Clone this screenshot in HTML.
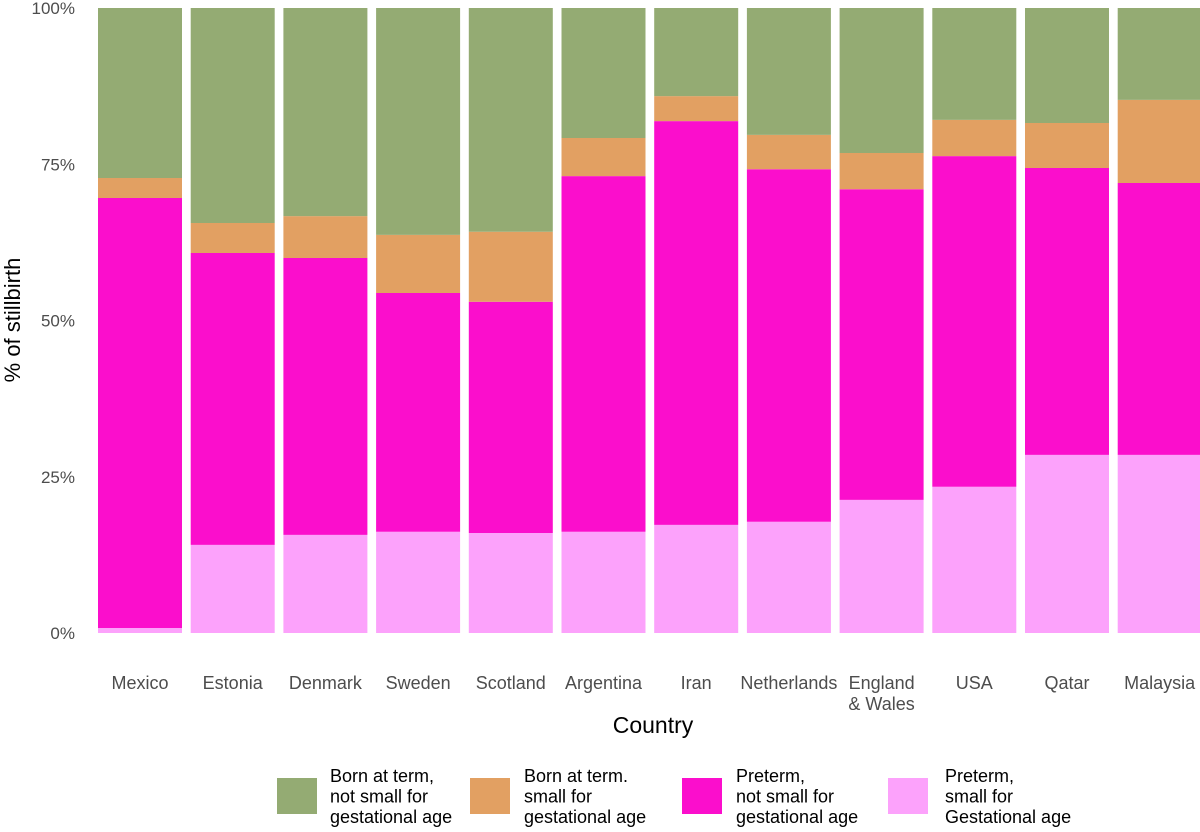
<!DOCTYPE html>
<html><head><meta charset="utf-8"><style>
html,body{margin:0;padding:0;background:#fff;}
svg text{font-family:"Liberation Sans",Arial,sans-serif;}
</style></head><body>
<svg id="chart" width="1200" height="827" viewBox="0 0 1200 827">
<g id="bars"></g>
<g id="yticks"></g>
<g id="xticks"></g>
<text x="653" y="733" font-size="23" text-anchor="middle" fill="#000">Country</text>
<text transform="translate(20,320) rotate(-90)" font-size="22" text-anchor="middle" fill="#000">% of stillbirth</text>
<g id="legend"></g>
</svg>
<script>
const categories=["Mexico","Estonia","Denmark","Sweden","Scotland","Argentina","Iran","Netherlands","England\n& Wales","USA","Qatar","Malaysia"];
const pretermSmall=[0.8,14.1,15.7,16.2,16.0,16.2,17.3,17.8,21.3,23.4,28.5,28.5];
const pretermNotSmall=[68.8,46.7,44.3,38.2,37.0,56.9,64.6,56.4,49.7,52.9,45.9,43.5];
const termSmall=[3.2,4.8,6.7,9.3,11.2,6.1,4.0,5.5,5.8,5.8,7.2,13.3];
const termNotSmall=[27.2,34.4,33.3,36.3,35.8,20.8,14.1,20.3,23.2,17.9,18.4,14.7];
const yTicks=[0,25,50,75,100];
const seriesNames=["Born at term,\nnot small for\ngestational age","Born at term.\nsmall for\ngestational age","Preterm,\nnot small for\ngestational age","Preterm,\nsmall for\nGestational age"];
const colors=["#94ab73","#e2a062","#fb0ecc","#fca2fb"];
const NS="http://www.w3.org/2000/svg";
const y0=633,yTop=8,x0=98,step=92.7,bw=84;
const yScale=v=>y0-(v/100)*(y0-yTop);
const xScale=i=>x0+i*step;
function mk(tag,attrs,parent){const e=document.createElementNS(NS,tag);for(const k in attrs)e.setAttribute(k,attrs[k]);parent.appendChild(e);return e;}
const bars=document.getElementById('bars');
const stackOrder=[pretermSmall,pretermNotSmall,termSmall,termNotSmall];
const stackColors=[colors[3],colors[2],colors[1],colors[0]];
const segNames=["preterm-small","preterm-not-small","term-small","term-not-small"];
categories.forEach((c,i)=>{
  let cum=0;
  stackOrder.forEach((arr,s)=>{
    const v=arr[i];
    const r=mk('rect',{x:xScale(i),y:yScale(cum+v),width:bw,height:yScale(cum)-yScale(cum+v),fill:stackColors[s]},bars);
    
    
    cum+=v;
  });
  const lines=c.split("\n");
  lines.forEach((ln,k)=>{
    const t=mk('text',{x:xScale(i)+bw/2,y:689+k*21,'font-size':18,'text-anchor':'middle',fill:'#4d4d4d'},document.getElementById('xticks'));
    t.textContent=ln;
    
    
  });
});
yTicks.forEach(v=>{
  const t=mk('text',{x:75,y:yScale(v)+6,'font-size':17,'text-anchor':'end',fill:'#4d4d4d'},document.getElementById('yticks'));
  t.textContent=v+"%";
  
  
});
const lg=document.getElementById('legend');
const lx=[277,470,682,888],tx=[330,524,736,945];
seriesNames.forEach((n,i)=>{
  const r=mk('rect',{x:lx[i],y:778,width:40,height:36,fill:colors[i]},lg);
  
  
  n.split("\n").forEach((ln,k)=>{
    const t=mk('text',{x:tx[i],y:782+k*20.5,'font-size':18,fill:'#000'},lg);
    t.textContent=ln;
    
    
  });
});
</script>
</body></html>
